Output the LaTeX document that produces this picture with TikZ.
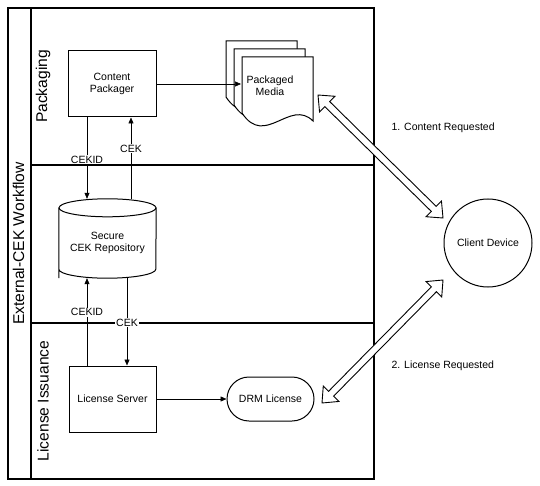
\documentclass[tikz,border=0pt]{standalone}
\usepackage{fontspec}
\setmainfont{Liberation Sans}
\usetikzlibrary{calc,arrows.meta}
\newcommand\hollowarrow[2]{%
  \draw[harrow] (#1) -- ($(#1)!13pt!(#2)!11pt!90:(#2)$) -- ($(#1)!13pt!(#2)!3.5pt!90:(#2)$)
    -- ($(#2)!13pt!(#1)!3.5pt!-90:(#1)$) -- ($(#2)!13pt!(#1)!11pt!-90:(#1)$) -- (#2)
    -- ($(#2)!13pt!(#1)!11pt!90:(#1)$) -- ($(#2)!13pt!(#1)!3.5pt!90:(#1)$)
    -- ($(#1)!13pt!(#2)!3.5pt!-90:(#2)$) -- ($(#1)!13pt!(#2)!11pt!-90:(#2)$) -- cycle;}
\begin{document}
\begin{tikzpicture}[x=1pt,y=-1pt,
  frame/.style={draw=black,line width=1.2pt},
  txt/.style={font=\fontsize{10.5}{12}\selectfont},
  box/.style={draw=black,line width=1pt,fill=white,align=center,txt,inner sep=0pt},
  lane/.style={font=\fontsize{15.6}{18}\selectfont,rotate=90,inner sep=0pt},
  conn/.style={draw=black,line width=0.6pt,-{Triangle[length=6pt,width=5pt]}},
  lbl/.style={txt,fill=white,inner sep=1pt},
  harrow/.style={draw=black,line width=0.9pt,fill=white,line join=miter},
  pagesty/.style={draw=black,line width=1pt,fill=white}]
\useasboundingbox (0,0) rectangle (540,486);
% swimlane frame
\draw[frame] (8,8) rectangle (374,479);
\draw[frame] (31,8) -- (31,479);
\draw[frame] (31,165) -- (374,165);
\draw[frame] (31,323) -- (374,323);
\node[lane] (lwf) at (18.5,243.5) {External-CEK Workflow};
\node[lane] (lpk) at (43,86.5) {Packaging};
\node[lane] (lli) at (43,401) {License Issuance};
% packaged media (stacked documents)
\foreach \o in {16,8,0}{
  \draw[pagesty,shift={(-\o,-\o)}] (242,57) -- (313,57) -- (313,121)
    .. controls (290,98) and (265,148) .. (242,113) -- cycle;}
\node[txt,align=center] (media) at (270,86) {Packaged\\Media};
\coordinate (mediaL) at (241,85);
% nodes
\node[box,minimum width=88pt,minimum height=66pt] (cp) at (112,84) {Content\\Packager};
\node[box,minimum width=87pt,minimum height=66pt] (ls) at (112.5,399) {License Server};
\node[box,rounded corners=22pt,minimum width=87pt,minimum height=44pt] (drm) at (270.5,399) {DRM License};
\node[draw=black,line width=1pt,circle,minimum size=88pt,inner sep=0pt,txt] (client) at (488,243) {Client Device};
% cylinder
\node[txt,align=center,minimum width=97pt,minimum height=70pt,inner sep=0pt] (cek) at (107.5,243) {Secure\\CEK Repository};
\draw[line width=1pt] (cek.north west) -- (cek.south west -| cek.west) ++(0,-9)
  arc[start angle=180,end angle=0,x radius=48.5,y radius=9] -- (cek.north east);
\draw[line width=1pt] (cek.north) ellipse [x radius=48.5,y radius=9];
\coordinate (cektop) at ([yshift=9pt]cek.north);
% connector x positions
\coordinate (xa) at (87,0);
\coordinate (xb) at (131,0);
\coordinate (xc) at (127,0);
\draw[conn] (cp.east) -- (cp.east -| mediaL);
\draw[conn] (cp.south -| xa) -- (cektop -| xa) node[lbl,pos=0.52] {CEKID};
\draw[conn] (cektop -| xb) -- (cp.south -| xb) node[lbl,pos=0.62] {CEK};
\draw[conn] (ls.north -| xa) -- (cek.south -| xa) node[lbl,pos=0.61] {CEKID};
\draw[conn] (cek.south -| xc) -- (ls.north -| xc) node[lbl,pos=0.51] {CEK};
\draw[conn] (ls.east) -- (drm.west);
% hollow double arrows
\coordinate (h1a) at (318,95);
\coordinate (h1b) at (443,218);
\coordinate (h2a) at (443,280);
\coordinate (h2b) at (322,403);
\hollowarrow{h1a}{h1b}
\hollowarrow{h2a}{h2b}
\node[txt,anchor=west] (req1) at (388,128) {1. Content Requested};
\node[txt,anchor=west] (req2) at (388,366) {2. License Requested};
\end{tikzpicture}
\end{document}
